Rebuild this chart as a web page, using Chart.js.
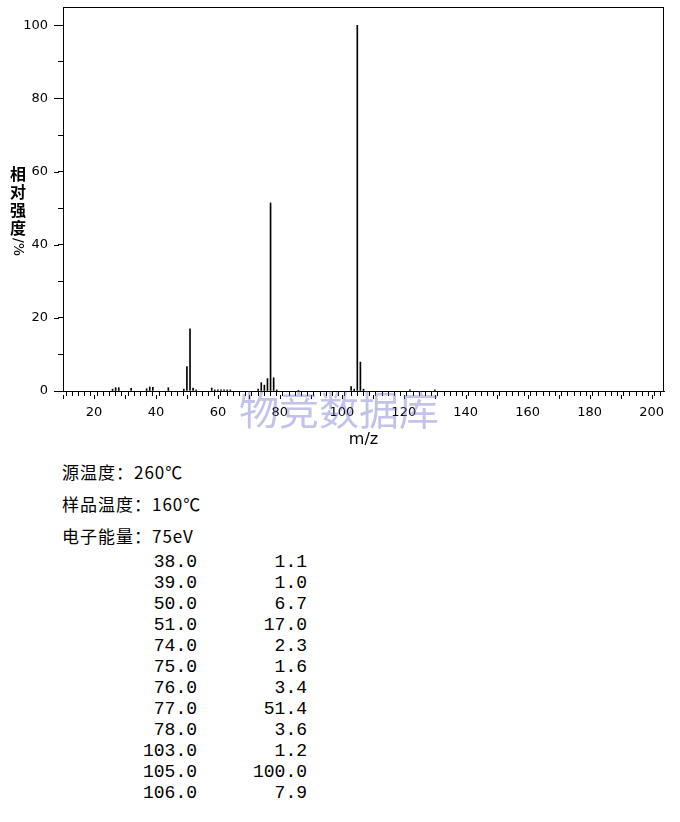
<!DOCTYPE html>
<html>
<head>
<meta charset="utf-8">
<script src="https://cdn.jsdelivr.net/npm/chart.js@4.4.1/dist/chart.umd.min.js"></script>
<style>
    body { margin: 0; background: #fff; }
    #page { position: relative; width: 680px; height: 822px; overflow: hidden; }
    #ms { position: absolute; left: 0; top: 0; }
    .info { position: absolute; left: 62px; font: 17px "Noto Sans CJK SC"; letter-spacing: 1px; line-height: 20px; color: #000; }
    .cell { position: absolute; left: 0; text-align: right; font: 18px "Liberation Mono"; line-height: 20px; color: #000; }
</style>
</head>
<body>
<div id="page">
    <canvas id="ms" width="680" height="450"></canvas>
</div>
<script>
// 列表中给出的峰
const majorMz = [38, 39, 50, 51, 74, 75, 76, 77, 78, 103, 105, 106];
const majorIntensity = [1.1, 1.0, 6.7, 17.0, 2.3, 1.6, 3.4, 51.4, 3.6, 1.2, 100.0, 7.9];

// 图上能看到的小峰 (估读)
const minorMz = [26, 27, 28, 32, 37, 44, 49, 52, 53, 58, 59, 60, 61, 62, 63, 64, 73, 79, 86, 104, 107, 122, 130];
const minorIntensity = [0.5, 0.9, 0.9, 0.7, 0.6, 0.9, 0.5, 0.8, 0.3, 0.8, 0.3, 0.3, 0.3, 0.3, 0.3, 0.3, 0.5, 0.3, 0.2, 0.5, 0.5, 0.3, 0.3];

const xTickLabels = [20, 40, 60, 80, 100, 120, 140, 160, 180, 200];
const yTickLabels = [0, 20, 40, 60, 80, 100];

const yTitleChars = ['相', '对', '强', '度'];
const yTitleUnit = '/%';
const infoLines = ['源温度：260℃', '样品温度：160℃', '电子能量：75eV'];

const page = document.getElementById('page');

// 文字信息和峰表
infoLines.forEach((t, i) => {
    const d = document.createElement('div');
    d.className = 'info';
    d.style.top = (462 + i * 32) + 'px';
    d.textContent = t;
    page.appendChild(d);
});

majorMz.forEach((m, i) => {
    const top = 552 + i * 21;
    const a = document.createElement('div');
    a.className = 'cell';
    a.style.top = top + 'px';
    a.style.width = '197px';
    a.textContent = m.toFixed(1);
    const b = document.createElement('div');
    b.className = 'cell';
    b.style.top = top + 'px';
    b.style.width = '307px';
    b.textContent = majorIntensity[i].toFixed(1);
    page.appendChild(a);
    page.appendChild(b);
});

const peaks = majorMz.map((m, i) => ({ x: m, y: majorIntensity[i] }))
    .concat(minorMz.map((m, i) => ({ x: m, y: minorIntensity[i] })));

// 边框、加长刻度、竖排标题、水印
const frameAndTicks = {
    id: 'frameAndTicks',
    afterDraw(chart) {
        const { ctx, chartArea: a, scales } = chart;
        ctx.save();
        ctx.strokeStyle = '#000';
        ctx.lineWidth = 1;
        ctx.strokeRect(Math.round(a.left) + 0.5, Math.round(a.top) + 0.5,
            Math.round(a.right - a.left) - 1, Math.round(a.bottom - a.top));

        ctx.beginPath();
        scales.x.ticks.forEach(t => {
            if (t.value % 10 === 0) {
                const px = Math.round(scales.x.getPixelForValue(t.value)) + 0.5;
                ctx.moveTo(px, a.bottom + 4);
                ctx.lineTo(px, a.bottom + 8);
            }
        });
        scales.y.ticks.forEach(t => {
            if (t.value % 20 === 0) {
                const py = Math.round(scales.y.getPixelForValue(t.value)) + 0.5;
                ctx.moveTo(a.left - 4, py);
                ctx.lineTo(a.left - 9, py);
            }
        });
        ctx.stroke();

        // y 轴标题：汉字竖排，单位旋转
        ctx.fillStyle = '#000';
        ctx.textAlign = 'center';
        ctx.textBaseline = 'middle';
        ctx.font = 'bold 16px "Noto Sans CJK SC"';
        yTitleChars.forEach((c, i) => ctx.fillText(c, 18, 174 + i * 18));
        ctx.save();
        ctx.translate(18, 247);
        ctx.rotate(Math.PI / 2);
        ctx.font = '14px "DejaVu Sans"';
        ctx.fillText(yTitleUnit, 0, 0);
        ctx.restore();

        ctx.font = '40px "Noto Sans CJK SC"';
        ctx.fillStyle = 'rgba(110, 110, 205, 0.42)';
        ctx.fillText('物竞数据库', 339, 410);
        ctx.restore();
    }
};

new Chart(document.getElementById('ms'), {
    type: 'bar',
    data: {
        datasets: [{
            data: peaks,
            backgroundColor: '#000',
            borderWidth: 0,
            barThickness: 1,
            grouped: false
        }]
    },
    options: {
        responsive: false,
        animation: false,
        devicePixelRatio: 1,
        layout: { padding: { left: 0, top: 7, right: 16, bottom: 0 } },
        plugins: { legend: { display: false }, tooltip: { enabled: false } },
        scales: {
            x: {
                type: 'linear',
                min: 10,
                max: 204,
                offset: false,
                afterFit: s => { s.height = 59; },
                border: { color: '#000', width: 1 },
                grid: { drawOnChartArea: false, tickLength: 5, color: '#000' },
                ticks: {
                    stepSize: 2,
                    autoSkip: false,
                    maxRotation: 0,
                    padding: 9,
                    color: '#000',
                    font: { family: 'DejaVu Sans', size: 13 },
                    callback: v => xTickLabels.includes(v) ? String(v) : ''
                },
                title: {
                    display: true,
                    text: 'm/z',
                    color: '#000',
                    font: { family: 'DejaVu Sans', size: 16 },
                    padding: { top: 2, bottom: 1 }
                }
            },
            y: {
                min: 0,
                max: 105,
                afterFit: s => { s.width = 63; s.paddingTop = 0; s.paddingBottom = 0; },
                afterBuildTicks: s => { s.ticks = s.ticks.filter(t => t.value % 10 === 0); },
                border: { color: '#000', width: 1 },
                grid: { drawOnChartArea: false, tickLength: 5, color: '#000' },
                ticks: {
                    stepSize: 10,
                    padding: 10,
                    color: '#000',
                    font: { family: 'DejaVu Sans', size: 13 },
                    callback: v => yTickLabels.includes(v) ? String(v) : ''
                }
            }
        }
    },
    plugins: [frameAndTicks]
});
</script>
</body>
</html>
